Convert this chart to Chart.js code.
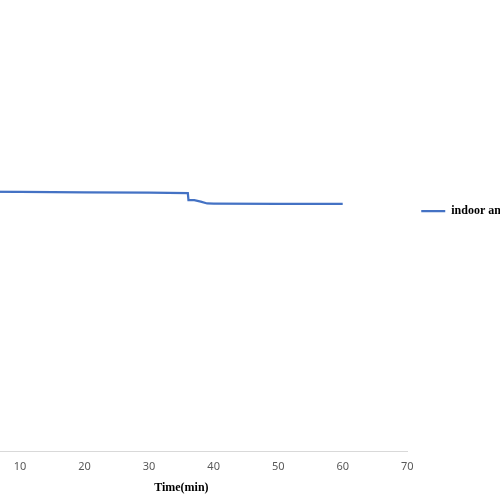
<!DOCTYPE html>
<html>
<head>
<meta charset="utf-8">
<script src="https://cdn.jsdelivr.net/npm/chart.js@4"></script>
<style>
  html, body { margin: 0; padding: 0; background: #fff; overflow: hidden; width: 500px; height: 500px; }
  #wrap { position: absolute; left: -60px; top: -73px; width: 667px; height: 568px; }
</style>
</head>
<body>
<div id="wrap"><canvas id="myChart"></canvas></div>
<script>
const times = [0, 10, 20, 30, 36, 36.1, 37, 38, 39, 40, 50, 60];
const indoorTemp = [19.81, 19.79, 19.76, 19.73, 19.70, 19.16, 19.16, 19.05, 18.91, 18.90, 18.89, 18.88];
const seriesName = 'indoor ambient temperature';
const xTitle = 'Time(min)';

new Chart(document.getElementById('myChart').getContext('2d'), {
    type: 'line',
    data: {
        datasets: [{
            label: seriesName,
            data: times.map((t, i) => ({ x: t, y: indoorTemp[i] })),
            borderColor: '#4472C4',
            backgroundColor: '#4472C4',
            borderWidth: 2.25,
            pointRadius: 0,
            fill: false,
            tension: 0
        }]
    },
    options: {
        responsive: true,
        maintainAspectRatio: false,
        animation: false,
        layout: { padding: { left: 15.5, top: 0, right: 0, bottom: 0 } },
        plugins: {
            tooltip: { enabled: false },
            legend: {
                position: 'right',
                labels: {
                    usePointStyle: true,
                    pointStyle: 'line',
                    pointStyleWidth: 24,
                    padding: 14,
                    color: '#000',
                    font: { family: 'Liberation Serif', size: 12, weight: 'bold' }
                }
            }
        },
        scales: {
            x: {
                type: 'linear',
                min: 0,
                max: 70,
                ticks: { stepSize: 10, color: '#595959', padding: 9, font: { family: 'Noto Sans', size: 11 } },
                grid: { display: false, drawTicks: false },
                border: { color: '#d9d9d9', width: 1 },
                title: {
                    display: true,
                    text: xTitle,
                    color: '#000',
                    padding: { top: -2, bottom: 0 },
                    font: { family: 'Liberation Serif', size: 12, weight: 'bold' }
                }
            },
            y: {
                display: false,
                min: 0,
                max: 40
            }
        }
    }
});
</script>
</body>
</html>
